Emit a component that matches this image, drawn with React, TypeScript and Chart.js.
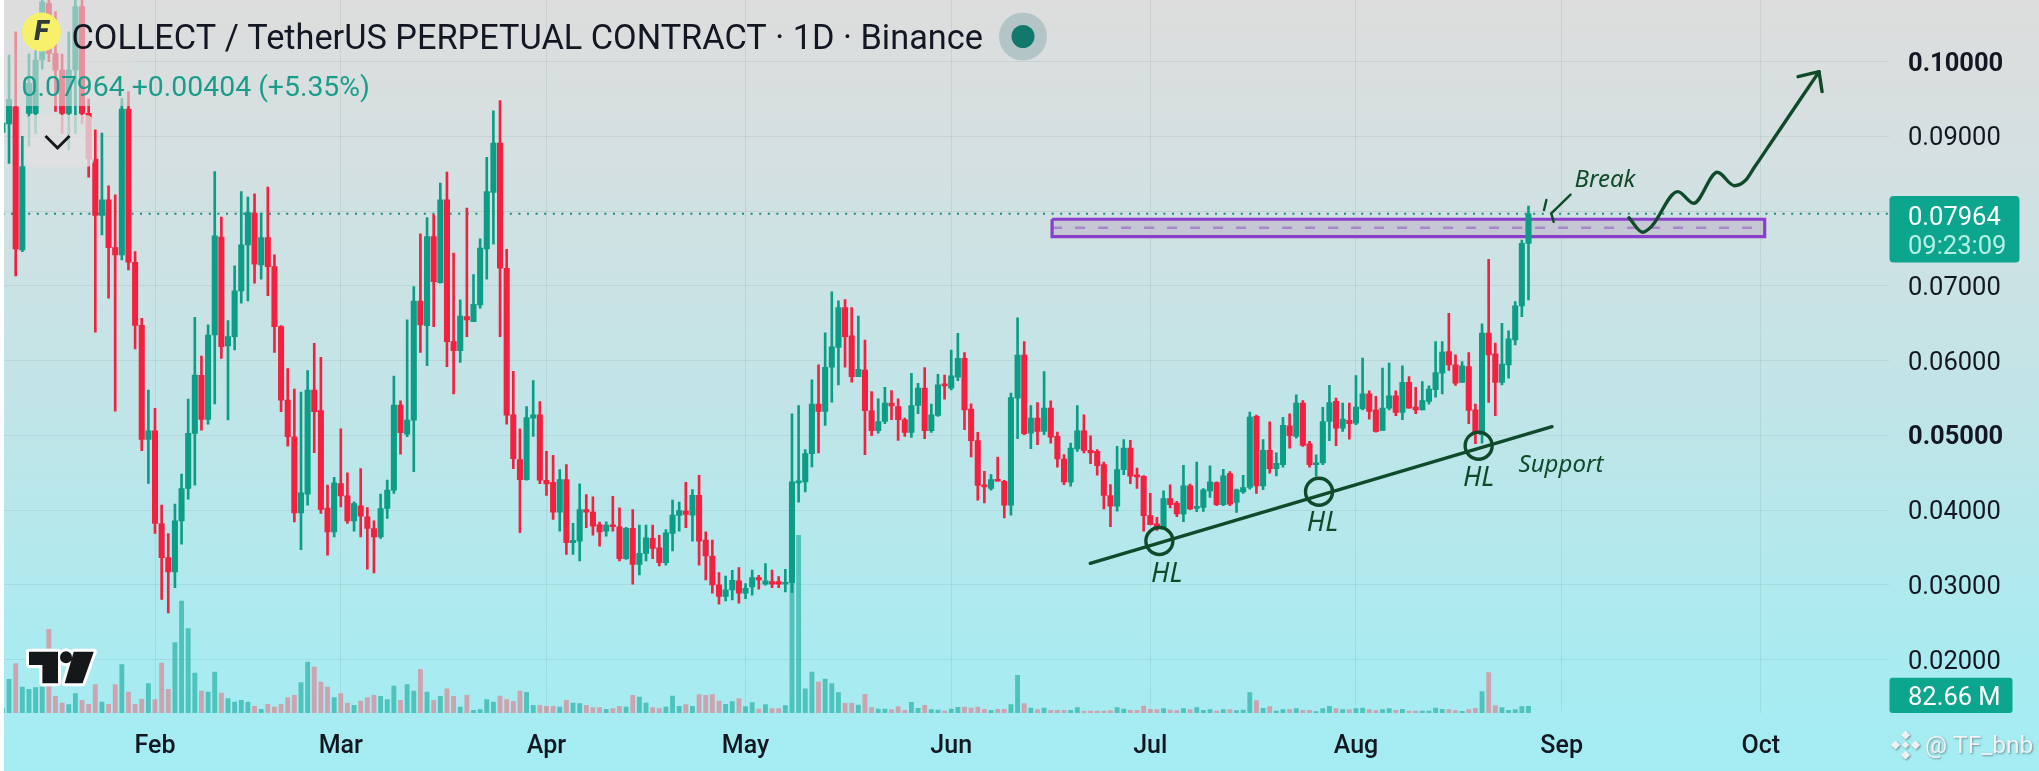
import React, { useEffect, useRef } from "react";
import { Chart, registerables } from "chart.js";

Chart.register(...registerables);

// Day numbers count from 1 Feb; first candle is 9 Jan.
const firstDay = -23;

const opens = [
  0.09054,0.09166,0.09395,0.07482,0.09309,0.09309,0.10022,0.10780,0.10112,0.09889,
  0.09309,0.09889,0.10736,0.09309,0.08696,0.07942,0.08152,0.07513,0.07415,0.09366,
  0.07317,0.06473,0.04947,0.05063,0.03822,0.03366,0.03174,0.03857,0.04290,0.05027,
  0.05804,0.05214,0.06344,0.07652,0.06197,0.06321,0.06933,0.07549,0.07973,0.07281,
  0.07647,0.07259,0.06455,0.05473,0.04982,0.03965,0.04215,0.05607,0.05331,0.04027,
  0.03710,0.04357,0.04192,0.03857,0.04058,0.03911,0.03755,0.03643,0.04023,0.04268,
  0.05406,0.05018,0.05205,0.06799,0.06469,0.07661,0.07045,0.08152,0.06255,0.06134,
  0.06589,0.06522,0.06746,0.07496,0.08250,0.08911,0.07237,0.05276,0.04676,0.04409,
  0.05231,0.05276,0.04400,0.04374,0.03974,0.04409,0.03565,0.03587,0.04009,0.03974,
  0.03809,0.03720,0.03800,0.03778,0.03351,0.03756,0.03276,0.03423,0.03623,0.03498,
  0.03298,0.03689,0.03929,0.03987,0.03934,0.04200,0.03600,0.03387,0.03000,0.02845,
  0.02934,0.03054,0.02889,0.02974,0.03098,0.03009,0.03045,0.03045,0.03009,0.03031,
  0.04365,0.04378,0.04756,0.05418,0.05321,0.05912,0.06178,0.06712,0.06334,0.05787,
  0.05876,0.05330,0.05063,0.05187,0.05432,0.05387,0.05210,0.05041,0.05401,0.05632,
  0.05063,0.05267,0.05676,0.05632,0.05778,0.06032,0.05352,0.04930,0.04330,0.04290,
  0.04410,0.04387,0.04067,0.05498,0.06076,0.05032,0.05232,0.05054,0.05365,0.04987,
  0.04685,0.04374,0.04818,0.05063,0.04801,0.04787,0.04610,0.04196,0.04054,0.04543,
  0.04832,0.04467,0.04454,0.03927,0.03816,0.03772,0.04157,0.04095,0.03949,0.04326,
  0.04025,0.04038,0.04259,0.04370,0.04073,0.04490,0.04104,0.04246,0.04304,0.05256,
  0.04326,0.04800,0.04556,0.04608,0.05130,0.04987,0.05432,0.04889,0.04608,0.04631,
  0.05187,0.05455,0.05098,0.05201,0.05165,0.05357,0.05557,0.05343,0.05067,0.05366,
  0.05530,0.05308,0.05709,0.05379,0.05343,0.05455,0.05611,0.05833,0.06123,0.05945,
  0.05709,0.05922,0.05343,0.05009,0.06368,0.06092,0.05709,0.05945,0.06279,0.06733,0.07570,
];

const highs = [
  0.09200,0.10089,0.10400,0.09000,0.10100,0.10550,0.11000,0.11000,0.10669,0.10100,
  0.10400,0.11000,0.11000,0.09500,0.09089,0.09045,0.08339,0.08219,0.09510,0.09599,
  0.07460,0.06567,0.05607,0.05362,0.04067,0.03688,0.04081,0.04482,0.05487,0.06580,
  0.06063,0.06478,0.08531,0.07920,0.06536,0.07268,0.08263,0.08187,0.08232,0.07973,
  0.08321,0.07415,0.06470,0.05893,0.05621,0.05581,0.05866,0.06232,0.06045,0.04335,
  0.04438,0.05089,0.04500,0.04112,0.04558,0.04036,0.03857,0.04215,0.04402,0.05795,
  0.05464,0.06545,0.06991,0.07696,0.07915,0.07951,0.08375,0.08522,0.07438,0.06813,
  0.08040,0.07152,0.07629,0.08719,0.09344,0.09478,0.07491,0.05858,0.05089,0.05387,
  0.05733,0.05454,0.04787,0.04734,0.04542,0.04609,0.03823,0.04351,0.04209,0.04178,
  0.03840,0.03845,0.04187,0.04031,0.03770,0.04009,0.03800,0.03800,0.03800,0.03663,
  0.03742,0.04134,0.04107,0.04374,0.04276,0.04467,0.03711,0.03600,0.03165,0.03120,
  0.03196,0.03231,0.03018,0.03200,0.03129,0.03285,0.03200,0.03112,0.03209,0.05289,
  0.05401,0.04810,0.05743,0.05943,0.06374,0.06920,0.06801,0.06818,0.06712,0.06596,
  0.06276,0.05587,0.05490,0.05645,0.05601,0.05490,0.05232,0.05832,0.05698,0.05907,
  0.05418,0.05818,0.05809,0.06143,0.06365,0.06107,0.05423,0.05041,0.04521,0.04476,
  0.04712,0.04400,0.05565,0.06574,0.06254,0.05401,0.05441,0.05854,0.05463,0.05045,
  0.04743,0.04898,0.05401,0.05276,0.04996,0.04810,0.04645,0.04343,0.04854,0.04943,
  0.04934,0.04565,0.04463,0.04224,0.03905,0.04259,0.04339,0.04118,0.04600,0.04348,
  0.04645,0.04290,0.04592,0.04380,0.04547,0.04516,0.04282,0.04468,0.05314,0.05274,
  0.04946,0.05181,0.04769,0.05241,0.05290,0.05544,0.05468,0.04920,0.04742,0.05375,
  0.05669,0.05499,0.05432,0.05432,0.05802,0.06034,0.05597,0.05522,0.05900,0.05967,
  0.05597,0.05931,0.05789,0.05642,0.05722,0.05664,0.06256,0.06256,0.06635,0.06078,
  0.05989,0.06109,0.05419,0.06492,0.07357,0.06234,0.06501,0.06399,0.06791,0.07615,0.08069,
];

const lows = [
  0.09040,0.08640,0.07135,0.07460,0.08870,0.09040,0.09900,0.10000,0.09335,0.09040,
  0.08820,0.09040,0.09175,0.08455,0.06380,0.07683,0.06835,0.05326,0.07348,0.07214,
  0.06156,0.04795,0.04357,0.03688,0.02808,0.02625,0.02965,0.03545,0.04148,0.04335,
  0.05072,0.05152,0.05420,0.06031,0.05206,0.06143,0.06768,0.06799,0.07036,0.07089,
  0.06871,0.06112,0.05317,0.04857,0.03844,0.03473,0.04067,0.04768,0.03956,0.03398,
  0.03643,0.04045,0.03822,0.03719,0.03643,0.03210,0.03161,0.03621,0.03889,0.04223,
  0.04750,0.04982,0.04514,0.06112,0.05933,0.06455,0.07036,0.05920,0.05554,0.05978,
  0.06321,0.06522,0.06701,0.07089,0.07558,0.06321,0.05152,0.04556,0.03698,0.04400,
  0.04987,0.04356,0.04196,0.03876,0.03720,0.03409,0.03409,0.03320,0.03765,0.03667,
  0.03520,0.03654,0.03720,0.03320,0.03340,0.03009,0.03134,0.03320,0.03351,0.03254,
  0.03263,0.03454,0.03720,0.03765,0.03587,0.03263,0.03067,0.02889,0.02743,0.02787,
  0.02800,0.02756,0.02818,0.02863,0.02943,0.02996,0.02965,0.02965,0.02907,0.02898,
  0.04107,0.04245,0.04578,0.04765,0.05134,0.05445,0.05676,0.05912,0.05712,0.05787,
  0.04743,0.04996,0.05032,0.05156,0.05210,0.04934,0.04987,0.04974,0.05290,0.04956,
  0.05041,0.05254,0.05485,0.05610,0.05734,0.05076,0.04712,0.04134,0.04098,0.04267,
  0.04387,0.03898,0.03934,0.04956,0.05010,0.04823,0.04876,0.05010,0.04898,0.04574,
  0.04343,0.04321,0.04787,0.04765,0.04623,0.04467,0.04018,0.03779,0.03987,0.04476,
  0.04356,0.04290,0.03720,0.03803,0.03728,0.03750,0.04029,0.03914,0.03847,0.04007,
  0.03980,0.03985,0.04171,0.04060,0.04060,0.04060,0.03971,0.04224,0.04282,0.04224,
  0.04273,0.04494,0.04459,0.04577,0.04831,0.04965,0.04853,0.04577,0.04453,0.04608,
  0.04929,0.04862,0.05054,0.04951,0.05143,0.05343,0.05219,0.05045,0.05067,0.05343,
  0.05263,0.05210,0.05366,0.05290,0.05343,0.05419,0.05513,0.05557,0.05869,0.05669,
  0.05709,0.05156,0.04889,0.04898,0.05441,0.05263,0.05677,0.05767,0.06212,0.06590,0.06813,
];

const closes = [
  0.09178,0.09496,0.07495,0.08598,0.09710,0.10022,0.10800,0.10110,0.09889,0.09309,
  0.09889,0.10736,0.09309,0.08700,0.07942,0.08152,0.07513,0.07415,0.09366,0.07317,
  0.06473,0.04947,0.05063,0.03822,0.03366,0.03174,0.03857,0.04290,0.05027,0.05808,
  0.05214,0.06344,0.07670,0.06188,0.06321,0.06933,0.07549,0.07982,0.07290,0.07647,
  0.07259,0.06455,0.05473,0.04982,0.03965,0.04232,0.05607,0.05317,0.04009,0.03710,
  0.04366,0.04192,0.03857,0.04090,0.03920,0.03755,0.03643,0.04023,0.04268,0.05406,
  0.05036,0.05205,0.06799,0.06478,0.07661,0.07058,0.08152,0.06255,0.06134,0.06598,
  0.06545,0.06755,0.07505,0.08263,0.08911,0.07237,0.05272,0.04689,0.04409,0.05240,
  0.05276,0.04400,0.04351,0.03974,0.04409,0.03565,0.03596,0.04009,0.03974,0.03787,
  0.03711,0.03800,0.03778,0.03351,0.03756,0.03276,0.03423,0.03631,0.03489,0.03298,
  0.03698,0.03934,0.03996,0.03942,0.04200,0.03587,0.03387,0.03000,0.02845,0.02934,
  0.03063,0.02889,0.02956,0.03098,0.03067,0.03054,0.03009,0.03009,0.03031,0.04378,
  0.04378,0.04756,0.05418,0.05321,0.05912,0.06187,0.06712,0.06321,0.05787,0.05885,
  0.05330,0.05063,0.05187,0.05432,0.05396,0.05210,0.05041,0.05401,0.05632,0.05063,
  0.05276,0.05676,0.05663,0.05796,0.06032,0.05343,0.04930,0.04330,0.04312,0.04410,
  0.04387,0.04067,0.05507,0.06076,0.05023,0.05232,0.05054,0.05365,0.04978,0.04685,
  0.04378,0.04832,0.05063,0.04801,0.04765,0.04596,0.04196,0.04054,0.04543,0.04832,
  0.04454,0.04445,0.03927,0.03807,0.03772,0.04157,0.04073,0.03949,0.04326,0.04016,
  0.04047,0.04273,0.04379,0.04073,0.04459,0.04082,0.04273,0.04304,0.05247,0.04326,
  0.04800,0.04556,0.04627,0.05134,0.04996,0.05432,0.04867,0.04608,0.04631,0.05187,
  0.05441,0.05098,0.05219,0.05156,0.05379,0.05557,0.05321,0.05054,0.05366,0.05530,
  0.05308,0.05709,0.05366,0.05343,0.05468,0.05620,0.05842,0.06114,0.05945,0.05700,
  0.05931,0.05334,0.05032,0.06368,0.06078,0.05709,0.05954,0.06292,0.06733,0.07570,0.07964,
];

// Volume in millions.
const volumes = [
  60,417,611,322,293,314,322,1037,207,124,
  103,240,157,107,351,136,107,351,599,260,
  107,169,363,165,620,293,871,1388,1045,496,
  273,260,508,248,178,136,157,136,83,45,
  107,74,107,190,219,376,632,570,384,322,
  190,240,124,95,149,190,219,207,165,335,
  157,351,273,541,260,157,207,301,207,74,
  219,33,41,165,136,211,165,145,273,256,
  95,95,83,83,74,157,124,116,95,66,
  66,45,54,83,74,219,198,124,66,54,
  74,211,83,103,83,227,219,227,149,107,
  140,178,78,128,50,103,54,54,91,2077,
  2201,301,508,384,421,363,252,120,120,99,
  231,66,50,50,41,78,33,132,58,95,
  41,37,25,50,70,74,62,74,45,33,
  45,45,103,467,116,62,41,62,33,33,
  33,33,66,21,25,25,25,29,66,50,
  33,33,87,45,41,54,37,29,54,41,
  66,33,41,25,41,41,29,37,252,153,
  58,78,25,41,45,54,33,33,17,54,
  83,54,41,41,54,62,41,29,41,54,
  33,45,25,25,25,25,62,45,41,29,
  21,41,58,264,500,91,66,33,41,78,83,
];

const monthLabels = ["Feb", "Mar", "Apr", "May", "Jun", "Jul", "Aug", "Sep", "Oct"];
const monthDays = [0, 28, 59, 89, 120, 150, 181, 212, 242];
const priceTicks = [0.02, 0.03, 0.04, 0.05, 0.06, 0.07, 0.08, 0.09, 0.1];
const boldPriceTicks = [0.05, 0.1];

const lastPrice = 0.07964;
const supportLine = [{ x: 140.95, y: 0.0329 }, { x: 210.55, y: 0.05117 }];
const higherLows = [{ x: 151.37, y: 0.03588 }, { x: 175.43, y: 0.04247 }, { x: 199.49, y: 0.04863 }];
const zoneTop = 0.07892;
const zoneMid = 0.07778;
const zoneBottom = 0.07659;
const zoneStart = 135.2;
const zoneEnd = 242.6;
const forecastPath = [
  { x: 222.14, y: 0.07913 }, { x: 224.22, y: 0.07718 }, { x: 225.52, y: 0.07793 },
  { x: 229.49, y: 0.08261 }, { x: 231.88, y: 0.08106 }, { x: 235.46, y: 0.0852 },
  { x: 238.04, y: 0.08341 }, { x: 239.76, y: 0.08417 }, { x: 241.0, y: 0.0858 },
  { x: 243.0, y: 0.08843 }, { x: 248.0, y: 0.095 }, { x: 250.79, y: 0.09866 },
];
const arrowHead = [{ x: 247.63, y: 0.09799 }, { x: 250.79, y: 0.09866 }, { x: 251.25, y: 0.09599 }];
const breakPointer = [{ x: 213.34, y: 0.08221 }, { x: 210.4, y: 0.07967 }];
const breakTickA = [{ x: 209.7, y: 0.0815 }, { x: 209.34, y: 0.08016 }];
const breakTickB = [{ x: 210.5, y: 0.0795 }, { x: 210.8, y: 0.07857 }];

const UP = "#0c9d86";
const DOWN = "#f3203f";
const INK = "#0f4a2a";
const PURPLE = "#8a3fc8";
const TEXT = "#131722";
const FONT = "Roboto";

const days = opens.map((_, i) => firstDay + i);
const isUp = (i: number) => closes[i] >= opens[i];
const candleColors = days.map((_, i) => (isUp(i) ? UP : DOWN));
const volumeColors = days.map((_, i) => (isUp(i) ? "rgba(24,170,155,0.62)" : "rgba(235,105,120,0.55)"));

function roundRect(ctx: CanvasRenderingContext2D, x: number, y: number, w: number, h: number, r: number) {
  ctx.beginPath();
  (ctx as any).roundRect(x, y, w, h, r);
}

const backdrop = {
  id: "backdrop",
  beforeDraw(chart: any) {
    const { ctx, width, height } = chart;
    const g = ctx.createLinearGradient(0, 0, 0, height);
    g.addColorStop(0, "#dddddd");
    g.addColorStop(0.2, "#d5e0e1");
    g.addColorStop(0.55, "#bfe5e8");
    g.addColorStop(0.85, "#a9ebf0");
    g.addColorStop(1, "#a4edf3");
    ctx.save();
    ctx.fillStyle = "#ffffff";
    ctx.fillRect(0, 0, width, height);
    ctx.fillStyle = g;
    ctx.fillRect(4, 0, width - 4, height);
    ctx.restore();
  },
};

const overlay = {
  id: "overlay",
  afterDraw(chart: any) {
    const { ctx } = chart;
    ctx.save();
    ctx.textBaseline = "middle";
    ctx.textAlign = "left";

    // translucent legend backgrounds over the candles
    ctx.fillStyle = "rgba(222,222,222,0.6)";
    ctx.fillRect(4, 0, 130, 106);
    ctx.fillStyle = "rgba(224,224,224,0.78)";
    roundRect(ctx, 25, 115, 69, 52, 8);
    ctx.fill();

    // symbol icon
    ctx.fillStyle = "#f6f06a";
    ctx.beginPath();
    ctx.arc(41.5, 32, 19.5, 0, Math.PI * 2);
    ctx.fill();
    ctx.fillStyle = "#33383d";
    ctx.textAlign = "center";
    ctx.font = `italic 900 27px ${FONT}`;
    ctx.fillText("F", 41.5, 33);
    ctx.textAlign = "left";

    ctx.fillStyle = TEXT;
    ctx.font = `34.3px ${FONT}`;
    ctx.fillText("COLLECT / TetherUS PERPETUAL CONTRACT · 1D · Binance", 71.5, 40.5);

    ctx.fillStyle = "#1a9e8b";
    ctx.font = `28.4px ${FONT}`;
    ctx.fillText("0.07964 +0.00404 (+5.35%)", 21.5, 88.5);

    // status dot
    ctx.fillStyle = "rgba(90,140,145,0.3)";
    ctx.beginPath();
    ctx.arc(1023, 36.5, 24, 0, Math.PI * 2);
    ctx.fill();
    ctx.fillStyle = "#13786c";
    ctx.beginPath();
    ctx.arc(1023, 36.5, 11.5, 0, Math.PI * 2);
    ctx.fill();

    // chevron
    ctx.strokeStyle = "#16181c";
    ctx.lineWidth = 3;
    ctx.beginPath();
    ctx.moveTo(45.5, 136);
    ctx.lineTo(57.5, 148);
    ctx.lineTo(69.5, 136);
    ctx.stroke();

    // TradingView mark
    const logo = new Path2D();
    logo.moveTo(29, 651.7);
    logo.lineTo(58, 651.7);
    logo.lineTo(58, 683.3);
    logo.lineTo(42.4, 683.3);
    logo.lineTo(42.4, 665);
    logo.lineTo(29, 665);
    logo.closePath();
    logo.moveTo(72, 657.3);
    logo.arc(66, 657.3, 6, 0, Math.PI * 2);
    logo.moveTo(73.7, 651.7);
    logo.lineTo(93.8, 651.7);
    logo.lineTo(82.6, 683.3);
    logo.lineTo(64.7, 683.3);
    logo.closePath();
    ctx.strokeStyle = "#ffffff";
    ctx.lineWidth = 6;
    ctx.lineJoin = "round";
    ctx.stroke(logo);
    ctx.fillStyle = "#14181b";
    ctx.fill(logo);

    // price tag
    ctx.fillStyle = "#0ca58e";
    roundRect(ctx, 1889.5, 196, 130, 66.5, 4);
    ctx.fill();
    ctx.fillStyle = "#ffffff";
    ctx.font = `25.5px ${FONT}`;
    ctx.fillText("0.07964", 1908, 219);
    ctx.fillStyle = "#b5efe6";
    ctx.fillText("09:23:09", 1908, 248);

    // volume tag
    ctx.fillStyle = "#0ca58e";
    roundRect(ctx, 1889.5, 677.7, 123, 35.3, 3);
    ctx.fill();
    ctx.fillStyle = "#ffffff";
    ctx.fillText("82.66 M", 1908, 699);

    // watermark
    ctx.shadowColor = "rgba(60,60,60,0.55)";
    ctx.shadowBlur = 2;
    ctx.shadowOffsetX = 1;
    ctx.shadowOffsetY = 1;
    ctx.fillStyle = "rgba(245,245,245,0.95)";
    ctx.font = `24.5px ${FONT}`;
    ctx.fillText("@ TF_bnb", 1925, 747);
    const diamond = (cx: number, cy: number, r: number) => {
      ctx.beginPath();
      ctx.moveTo(cx, cy - r);
      ctx.lineTo(cx + r, cy);
      ctx.lineTo(cx, cy + r);
      ctx.lineTo(cx - r, cy);
      ctx.closePath();
      ctx.fill();
    };
    diamond(1905.6, 745, 3.5);
    diamond(1905.6, 735, 4.5);
    diamond(1905.6, 755, 4.5);
    diamond(1895.6, 745, 4.5);
    diamond(1915.6, 745, 4.5);
    ctx.shadowColor = "transparent";

    // handwritten notes
    ctx.fillStyle = INK;
    ctx.textAlign = "center";
    ctx.font = `italic 27px "Noto Sans"`;
    ctx.fillText("HL", 1166.7, 574);
    ctx.fillText("HL", 1322.5, 523);
    ctx.fillText("HL", 1478.6, 478);
    ctx.font = `italic 24px "Noto Sans"`;
    ctx.fillText("Support", 1561, 465);
    ctx.fillText("Break", 1605, 180);
    ctx.restore();
  },
};

export default function App() {
  const ref = useRef<HTMLCanvasElement>(null);

  useEffect(() => {
    document.body.style.margin = "0";
    const inkLine = (data: any[], extra: any = {}) => ({
      type: "line",
      data,
      xAxisID: "x",
      yAxisID: "y",
      borderColor: INK,
      borderWidth: 3.4,
      borderCapStyle: "round",
      borderJoinStyle: "round",
      pointRadius: 0,
      order: 1,
      ...extra,
    });
    const chart = new Chart(ref.current as HTMLCanvasElement, {
      data: {
        datasets: [
          {
            type: "bar",
            data: days.map((d, i) => ({ x: d, y: volumes[i] })),
            xAxisID: "x",
            yAxisID: "yVol",
            backgroundColor: volumeColors,
            barThickness: 4.2,
            grouped: false,
            order: 6,
          },
          {
            type: "line",
            data: [
              { x: zoneStart, y: zoneTop },
              { x: zoneEnd, y: zoneTop },
              { x: zoneEnd, y: zoneBottom },
              { x: zoneStart, y: zoneBottom },
              { x: zoneStart, y: zoneTop },
            ],
            xAxisID: "x",
            yAxisID: "y",
            borderColor: PURPLE,
            borderWidth: 3.2,
            backgroundColor: "rgba(190,182,202,0.6)",
            fill: "shape",
            pointRadius: 0,
            order: 5,
          },
          {
            type: "line",
            data: [{ x: zoneStart, y: zoneMid }, { x: zoneEnd, y: zoneMid }],
            xAxisID: "x",
            yAxisID: "y",
            borderColor: PURPLE,
            borderWidth: 2.4,
            borderDash: [10, 13],
            pointRadius: 0,
            order: 5,
          },
          {
            type: "line",
            data: [{ x: -23, y: lastPrice }, { x: 262, y: lastPrice }],
            xAxisID: "x",
            yAxisID: "y",
            borderColor: "#118f7e",
            borderWidth: 2,
            borderDash: [2, 6.6],
            pointRadius: 0,
            order: 4,
          },
          {
            type: "bar",
            data: days.map((d, i) => ({ x: d, y: [lows[i], highs[i]] })),
            xAxisID: "x",
            yAxisID: "y",
            backgroundColor: candleColors,
            barThickness: 2,
            grouped: false,
            order: 3,
          },
          {
            type: "bar",
            data: days.map((d, i) => ({ x: d, y: [opens[i], closes[i]] })),
            xAxisID: "x",
            yAxisID: "y",
            backgroundColor: candleColors,
            barThickness: 5.4,
            minBarLength: 2,
            grouped: false,
            order: 2,
          },
          inkLine(supportLine),
          inkLine(higherLows, {
            showLine: false,
            pointRadius: 13.5,
            pointBorderWidth: 3.4,
            pointBorderColor: INK,
            pointBackgroundColor: "rgba(0,0,0,0)",
          }),
          inkLine(forecastPath, { cubicInterpolationMode: "monotone" }),
          inkLine(arrowHead),
          inkLine(breakPointer, { borderWidth: 2.4 }),
          inkLine(breakTickA, { borderWidth: 2.4 }),
          inkLine(breakTickB, { borderWidth: 2.4 }),
        ] as any,
      },
      plugins: [backdrop, overlay] as any,
      options: {
        responsive: false,
        animation: false,
        devicePixelRatio: 1,
        events: [],
        layout: { autoPadding: false, padding: { left: 4, top: 0, right: 0, bottom: 0 } },
        plugins: { legend: { display: false }, tooltip: { enabled: false } },
        scales: {
          x: {
            type: "linear",
            offset: false,
            min: -22.76,
            max: 261.26,
            afterFit: (s: any) => { s.height = 58; s.paddingLeft = 0; s.paddingRight = 0; },
            afterBuildTicks: (s: any) => { s.ticks = monthDays.map((v) => ({ value: v })); },
            grid: { color: "rgba(90,125,125,0.13)", drawTicks: false, offset: false },
            border: { display: false },
            ticks: {
              autoSkip: false,
              maxRotation: 0,
              padding: 19,
              color: TEXT,
              font: { family: FONT, size: 25, weight: "500" },
              callback: (v: any) => monthLabels[monthDays.indexOf(v)],
            },
          },
          y: {
            type: "linear",
            position: "right",
            offset: false,
            beginAtZero: false,
            min: 0.01287,
            max: 0.10825,
            afterFit: (s: any) => { s.width = 150.5; s.paddingTop = 0; s.paddingBottom = 0; },
            afterBuildTicks: (s: any) => { s.ticks = priceTicks.map((v) => ({ value: v })); },
            grid: { color: "rgba(90,125,125,0.13)", drawTicks: false },
            border: { display: false },
            ticks: {
              autoSkip: false,
              padding: 19.5,
              color: TEXT,
              font: (c: any) => ({
                family: FONT,
                size: 25.5,
                lineHeight: 0.2,
                weight: boldPriceTicks.some((b) => Math.abs(b - c.tick?.value) < 1e-6) ? "bold" : "normal",
              }),
              callback: (v: any) => ["", Number(v).toFixed(5)],
            },
          },
          yVol: {
            type: "linear",
            display: false,
            offset: false,
            min: 0,
            max: 8834,
          },
        },
      } as any,
    });
    return () => chart.destroy();
  }, []);

  return <canvas ref={ref} width={2039} height={771} style={{ display: "block", width: 2039, height: 771 }} />;
}
